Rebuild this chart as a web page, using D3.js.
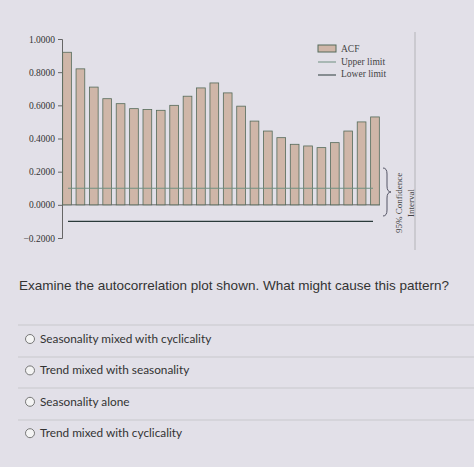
<!DOCTYPE html>
<html><head><meta charset="utf-8">
<script src="https://cdn.jsdelivr.net/npm/d3@7"></script>
<style>body{margin:0;background:#e4e0e6;}</style>
</head><body>
<svg id="c" width="474" height="467"></svg>
<script>
// ACF values, lags 1..24
var lags = d3.range(1, 25);
var acf = [0.92, 0.82, 0.71, 0.64, 0.61, 0.58, 0.575, 0.57, 0.60, 0.655, 0.705, 0.735,
           0.675, 0.595, 0.505, 0.445, 0.405, 0.365, 0.355, 0.345, 0.375, 0.445, 0.50, 0.53];
var upperLimit = 0.1, lowerLimit = -0.1;
var yTicks = [1, 0.8, 0.6, 0.4, 0.2, 0, -0.2];
var options = ["Seasonality mixed with cyclicality", "Trend mixed with seasonality",
               "Seasonality alone", "Trend mixed with cyclicality"];

var svg = d3.select("#c");
svg.append("rect").attr("width", 474).attr("height", 467).attr("fill", "#e2e0e8");

var y = d3.scaleLinear().domain([-0.2, 1]).range([238, 39]);
var x = d3.scaleBand().domain(lags).range([62, 380]).paddingInner(0.35).paddingOuter(0.05);

var serif = "Liberation Serif, serif";
svg.append("g").attr("transform", "translate(62,0)")
  .call(d3.axisLeft(y).tickValues(yTicks).tickFormat(d3.format(".4f")).tickSize(4))
  .call(g => g.selectAll("text").attr("font-family", serif).attr("font-size", 9.5).attr("fill", "#333"))
  .call(g => g.selectAll("line,path").attr("stroke", "#666"));
svg.append("line").attr("x1", 62).attr("x2", 380).attr("y1", y(0)).attr("y2", y(0)).attr("stroke", "#666");

svg.selectAll(".bar").data(acf).enter().append("rect")
  .attr("x", (d, i) => x(lags[i])).attr("width", x.bandwidth())
  .attr("y", d => y(d)).attr("height", d => y(0) - y(d))
  .attr("fill", "#cfb6a8").attr("stroke", "#556b5a").attr("stroke-width", 0.8);

svg.append("line").attr("x1", 68).attr("x2", 373).attr("y1", y(upperLimit)).attr("y2", y(upperLimit))
  .attr("stroke", "#6f8f80").attr("stroke-width", 1.2);
svg.append("line").attr("x1", 68).attr("x2", 373).attr("y1", y(lowerLimit)).attr("y2", y(lowerLimit))
  .attr("stroke", "#2a3a3a").attr("stroke-width", 1.3);

// confidence brace
svg.append("path").attr("d", "M383,168 q4,0 4,6 v12 q0,6 4,6 q-4,0 -4,6 v12 q0,6 -4,6")
  .attr("fill", "none").attr("stroke", "#556");
svg.append("text").attr("transform", "translate(402,203) rotate(-90)").attr("text-anchor", "middle")
  .attr("font-family", serif).attr("font-size", 9).attr("fill", "#444")
  .selectAll("tspan").data(["95% Confidence", "Interval"]).enter().append("tspan")
  .attr("x", 0).attr("dy", (d, i) => i ? 12 : 0).text(d => d);
svg.append("line").attr("x1", 415).attr("x2", 415).attr("y1", 32).attr("y2", 250).attr("stroke", "#999").attr("stroke-width", 0.6);

// legend
var lg = svg.append("g").attr("font-family", serif).attr("font-size", 9.5).attr("fill", "#444");
lg.append("rect").attr("x", 318).attr("y", 45).attr("width", 18).attr("height", 7).attr("fill", "#cfb6a8").attr("stroke", "#556b5a");
lg.append("line").attr("x1", 318).attr("x2", 336).attr("y1", 62).attr("y2", 62).attr("stroke", "#6f8f80");
lg.append("line").attr("x1", 318).attr("x2", 336).attr("y1", 75).attr("y2", 75).attr("stroke", "#2a3a3a");
["ACF", "Upper limit", "Lower limit"].forEach((t, i) =>
  lg.append("text").attr("x", 341).attr("y", 52 + i * 12.5).text(t));

// question
var sans = "Liberation Sans, Arial, sans-serif";
svg.append("text").attr("x", 19).attr("y", 290).attr("font-family", sans).attr("font-size", 13.5)
  .attr("fill", "#333").text("Examine the autocorrelation plot shown. What might cause this pattern?");
[325, 357, 388, 420].forEach(v => svg.append("line").attr("x1", 18).attr("x2", 474)
  .attr("y1", v).attr("y2", v).attr("stroke", "#c8c8cc"));
options.forEach((t, i) => {
  var cy = 339 + i * 31.4;
  svg.append("circle").attr("cx", 30).attr("cy", cy).attr("r", 4.5).attr("fill", "#f4f4f4").attr("stroke", "#777");
  svg.append("text").attr("x", 40).attr("y", cy + 4).attr("font-family", "Lato, sans-serif")
    .attr("font-size", 11.8).attr("fill", "#333").text(t);
});
</script>
</body></html>
